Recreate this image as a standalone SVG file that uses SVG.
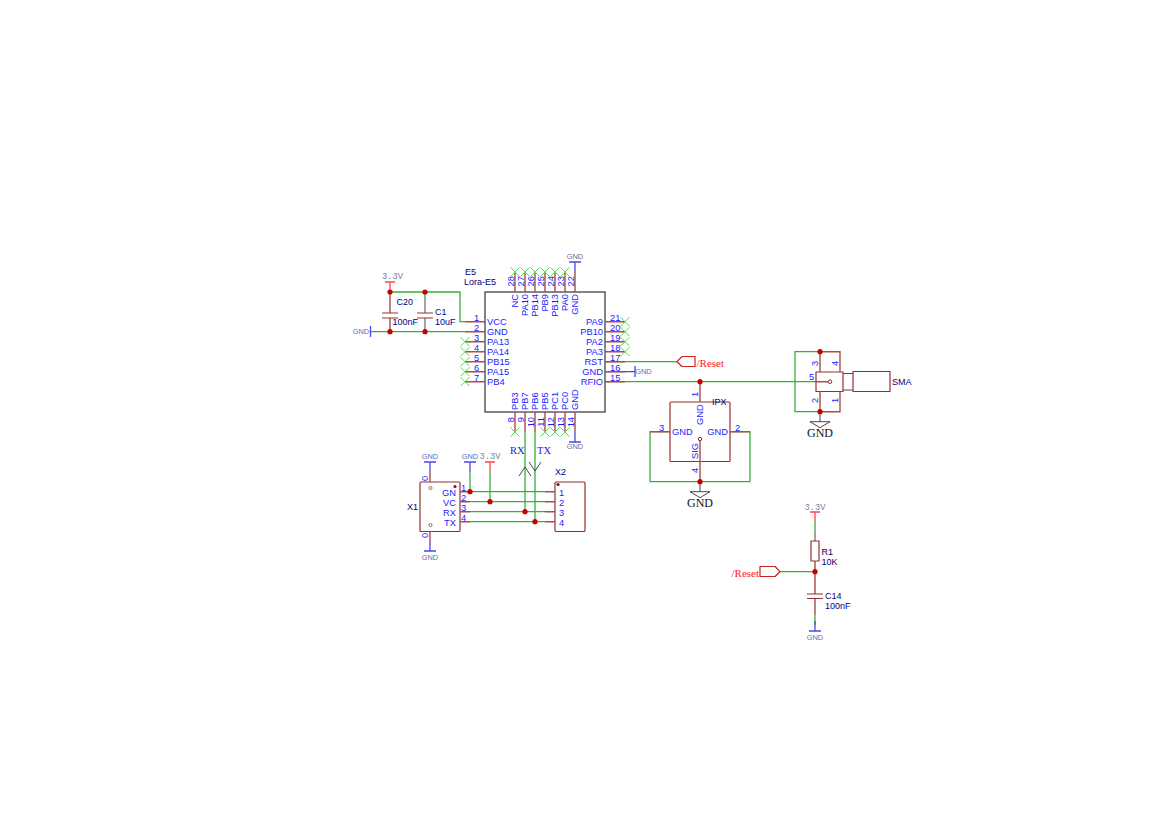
<svg xmlns="http://www.w3.org/2000/svg" width="1169" height="827" viewBox="0 0 1169 827">
<style>
text{font-family:"Liberation Sans",Arial,sans-serif;font-size:9.3px;fill:#1a1aff}
.nm{fill:#000080;font-size:9px}
.g{fill:#6a6ab4;font-size:7.4px;text-anchor:middle}
.v{fill:#8080a8;font-family:"Liberation Mono",monospace;font-size:8.8px;text-anchor:middle}
.s{font-family:"Liberation Serif",serif;font-size:10.500px}
.r{fill:#ff2020}
.b{fill:#1a1ad0}
.e{text-anchor:end}
.c{fill:#101010;text-anchor:middle}
.w,.p,.o,.x,.gb,.rb,.k{fill:none}
.w{stroke:#3aae3a;stroke-width:1.300}
.p{stroke:#ac4c4c;stroke-width:1.400}
.o{stroke:#963030;stroke-width:1.200;stroke-linejoin:round}
.x{stroke:#50e050;stroke-width:1}
.gb{stroke:#4848ec;stroke-width:1.300}
.rb{stroke:#ff4848;stroke-width:1.300}
.k{stroke:#333;stroke-width:.9}
.j{fill:#c80000}
.u{fill:none;stroke:#444;stroke-width:1.300}
</style>
<defs>
<g id="nc"><path class="x" d="M-4.500,-4.500L4.500,4.500M-4.500,4.500L4.500,-4.500"/></g>
<g id="dot"><circle class="j" r="2.600"/></g>
<g id="gndH"><path class="gb" d="M0,0V-10M-6,-10H6"/></g>
<g id="vcc"><path class="rb" d="M0,0V-10M-5,-10H5"/></g>
<g id="tri"><path class="k" d="M0,0V10M-10,10H10L0,16Z"/></g>
</defs>

<g id="connectors">
<path class="w" d="M390,292H460V321.700H465M370.500,331.700H465"/>
<path class="w" d="M605,361.700H677M605,381.700H815"/>
<path class="w" d="M525,432V511.700M535,432V521.700"/>
<path class="w" d="M470,472V491.700M490,472V501.700"/>
<path class="w" d="M470,491.700H545M470,501.700H545M470,511.700H545M470,521.700H545"/>
<path class="w" d="M670,431.700H650V481.700H750V431.700H730"/>
<path class="w" d="M820,351.700H795V411.700H820"/>
<path class="w" d="M780,571.700H815M815,522V531M815,615V625"/>
<path class="gb" d="M605,371.700H635M635,366V377"/>
<path class="gb" d="M370.500,326V337"/>
</g>

<g id="U1">
<rect class="u" x="485" y="292" width="120" height="120"/>
<path class="p" d="M465,321.700H485M465,331.700H485M465,341.700H485M465,351.700H485M465,361.700H485M465,371.700H485M465,381.700H485"/>
<path class="p" d="M605,321.700H625M605,331.700H625M605,341.700H625M605,351.700H625M605,361.700H625M605,371.700H625M605,381.700H625"/>
<path class="p" d="M515,272V292M525,272V292M535,272V292M545,272V292M555,272V292M565,272V292M575,272V292"/>
<path class="p" d="M515,412V432M525,412V432M535,412V432M545,412V432M555,412V432M565,412V432M575,412V432"/>
<use href="#nc" x="465" y="341.700"/><use href="#nc" x="465" y="351.700"/><use href="#nc" x="465" y="361.700"/><use href="#nc" x="465" y="371.700"/><use href="#nc" x="465" y="381.700"/>
<use href="#nc" x="625" y="321.700"/><use href="#nc" x="625" y="331.700"/><use href="#nc" x="625" y="341.700"/><use href="#nc" x="625" y="351.700"/>
<use href="#nc" x="515" y="272"/><use href="#nc" x="525" y="272"/><use href="#nc" x="535" y="272"/><use href="#nc" x="545" y="272"/><use href="#nc" x="555" y="272"/><use href="#nc" x="565" y="272"/>
<use href="#nc" x="515" y="432"/><use href="#nc" x="545" y="432"/><use href="#nc" x="555" y="432"/><use href="#nc" x="565" y="432"/>
<use href="#gndH" x="575" y="272"/>
<use href="#gndH" x="575" y="432" transform="rotate(180 575 432) translate(0,-0)"/>
<text class="nm" x="465" y="275">E5</text>
<text class="nm" x="464" y="285">Lora-E5</text>
<text x="487" y="325">VCC</text><text x="487" y="335">GND</text><text x="487" y="345">PA13</text><text x="487" y="355">PA14</text><text x="487" y="365">PB15</text><text x="487" y="375">PA15</text><text x="487" y="385">PB4</text>
<text x="474" y="321">1</text><text x="474" y="331">2</text><text x="474" y="341">3</text><text x="474" y="351">4</text><text x="474" y="361">5</text><text x="474" y="371">6</text><text x="474" y="381">7</text>
<text class="e" x="603" y="325">PA9</text><text class="e" x="603" y="335">PB10</text><text class="e" x="603" y="345">PA2</text><text class="e" x="603" y="355">PA3</text><text class="e" x="603" y="365">RST</text><text class="e" x="603" y="375">GND</text><text class="e" x="603" y="385">RFIO</text>
<text x="610" y="321">21</text><text x="610" y="331">20</text><text x="610" y="341">19</text><text x="610" y="351">18</text><text x="610" y="361">17</text><text x="610" y="371">16</text><text x="610" y="381">15</text>
<text class="e" transform="translate(518,294) rotate(-90)">NC</text>
<text class="e" transform="translate(528,294) rotate(-90)">PA10</text>
<text class="e" transform="translate(538,294) rotate(-90)">PB14</text>
<text class="e" transform="translate(548,294) rotate(-90)">PB9</text>
<text class="e" transform="translate(558,294) rotate(-90)">PB13</text>
<text class="e" transform="translate(568,294) rotate(-90)">PA0</text>
<text class="e" transform="translate(578,294) rotate(-90)">GND</text>
<text transform="translate(514,286.500) rotate(-90)">28</text>
<text transform="translate(524,286.500) rotate(-90)">27</text>
<text transform="translate(534,286.500) rotate(-90)">26</text>
<text transform="translate(544,286.500) rotate(-90)">25</text>
<text transform="translate(554,286.500) rotate(-90)">24</text>
<text transform="translate(564,286.500) rotate(-90)">23</text>
<text transform="translate(574,286.500) rotate(-90)">22</text>
<text transform="translate(518,410) rotate(-90)">PB3</text>
<text transform="translate(528,410) rotate(-90)">PB7</text>
<text transform="translate(538,410) rotate(-90)">PB6</text>
<text transform="translate(548,410) rotate(-90)">PB5</text>
<text transform="translate(558,410) rotate(-90)">PC1</text>
<text transform="translate(568,410) rotate(-90)">PC0</text>
<text transform="translate(578,410) rotate(-90)">GND</text>
<text class="e" transform="translate(514,417) rotate(-90)">8</text>
<text class="e" transform="translate(524,417) rotate(-90)">9</text>
<text class="e" transform="translate(534,417) rotate(-90)">10</text>
<text class="e" transform="translate(544,417) rotate(-90)">11</text>
<text class="e" transform="translate(554,417) rotate(-90)">12</text>
<text class="e" transform="translate(564,417) rotate(-90)">13</text>
<text class="e" transform="translate(574,417) rotate(-90)">14</text>
</g>

<g id="C20">
<path class="p" d="M390,292V313M390,318V331.700"/>
<path class="o" d="M382,313H398M382,318H398"/>
<text class="nm" x="396.500" y="305">C20</text>
<text class="nm" x="392.500" y="325">100nF</text>
</g>
<g id="C1">
<path class="k" d="M425,292V313M425,318V331.700"/>
<path class="o" d="M417,313H433M417,318H433"/>
<text class="nm" x="435" y="315">C1</text>
<text class="nm" x="435" y="324.500">10uF</text>
</g>

<g id="power-labels">
<use href="#vcc" x="390" y="292"/>
<text class="v" x="392.500" y="279">3.3V</text>
<text class="g" x="361" y="334">GND</text>
<text class="g" x="575" y="259">GND</text>
<text class="g" x="575" y="449">GND</text>
<text class="g" x="643.500" y="374">GND</text>
<text class="g" x="430" y="458.500">GND</text>
<text class="g" x="430" y="559.500">GND</text>
<text class="g" x="470" y="458.500">GND</text>
<text class="v" x="490" y="458.500">3.3V</text>
<use href="#gndH" x="470" y="472"/>
<use href="#vcc" x="490" y="472"/>
<text class="v" x="815" y="509.500">3.3V</text>
<text class="g" x="815" y="639.500">GND</text>
<use href="#vcc" x="815" y="522"/>
<use href="#gndH" x="815" y="621" transform="rotate(180 815 621)"/>
</g>

<g id="Reset1">
<path class="o" d="M677,361.700L682,356.500H695V366.500H682Z" style="stroke:#cc2020"/>
<text class="s r" style="font-size:11px" x="696.500" y="367">/Reset</text>
</g>

<g id="nets">
<text class="s b" x="510" y="454">RX</text>
<text class="s b" x="537" y="454">TX</text>
<path class="k" d="M519,476L525,467L531,476M529,462L535,471L541,462"/>
</g>

<g id="X1">
<rect class="o" x="420" y="482" width="40" height="49.500" rx="1"/>
<path class="p" d="M460,491.700H470M460,501.700H470M460,511.700H470M460,521.700H470M430,472V482M430,531.500V541"/>
<use href="#gndH" x="430" y="472"/>
<use href="#gndH" x="430" y="541" transform="rotate(180 430 541)"/>
<circle cx="455" cy="486.500" r="1.600" fill="#8c1010"/>
<circle cx="430.500" cy="488" r="1.500" fill="none" stroke="#6c6c50" stroke-width=".9"/>
<circle cx="430.500" cy="525" r="1.500" fill="none" stroke="#6c6c50" stroke-width=".9"/>
<text class="nm" x="407" y="510">X1</text>
<text class="e" x="456" y="495.500">GN</text><text class="e" x="456" y="505.500">VC</text><text class="e" x="456" y="515.500">RX</text><text class="e" x="456" y="525.500">TX</text>
<text x="461" y="490.500">1</text><text x="461" y="500.500">2</text><text x="461" y="510.500">3</text><text x="461" y="520.500">4</text>
<text transform="translate(428,481) rotate(-90)">0</text>
<text transform="translate(428,538) rotate(-90)">0</text>
</g>

<g id="X2">
<rect class="o" x="555" y="482" width="30" height="49.500" rx="1"/>
<path class="p" d="M545,491.700H555M545,501.700H555M545,511.700H555M545,521.700H555"/>
<circle cx="558" cy="484.500" r="1.600" fill="#8c1010"/>
<text class="nm" x="555" y="475">X2</text>
<text x="559" y="496">1</text><text x="559" y="506">2</text><text x="559" y="516">3</text><text x="559" y="526">4</text>
</g>

<g id="IPX">
<rect class="o" x="670" y="402" width="60" height="59.500" rx="1"/>
<path class="p" d="M700,382V402M700,441V481.700M650,431.700H670M730,431.700H750"/>
<circle cx="700" cy="439" r="1.700" fill="#fff" stroke="#8c2626"/>
<use href="#tri" x="700" y="481.700"/>
<text class="c s" x="700" y="506.500" style="font-size:12px">GND</text>
<text class="nm" x="712" y="405">IPX</text>
<text x="672" y="435">GND</text>
<text class="e" x="728" y="435">GND</text>
<text transform="translate(703,425) rotate(-90)">GND</text>
<text transform="translate(698,459) rotate(-90)">SIG</text>
<text transform="translate(698,397) rotate(-90)">1</text>
<text transform="translate(698,473) rotate(-90)">4</text>
<text x="659" y="431">3</text>
<text x="735" y="431">2</text>
</g>

<g id="SMA">
<rect class="o" x="816" y="372" width="27" height="19.500"/>
<rect class="o" x="853" y="371.500" width="37" height="20"/>
<path class="o" d="M843,373.500H853M843,390H853"/>
<path class="p" d="M815,381.700H828M820,352V372M820,391.500V411.700M840,372V351.700H820M840,391.500V411.700H820"/>
<circle cx="830" cy="381.700" r="1.800" fill="#fff" stroke="#8c2626"/>
<use href="#tri" x="820" y="411.700"/>
<text class="c s" x="820" y="437" style="font-size:12px">GND</text>
<text class="nm" x="892" y="385">SMA</text>
<text x="809" y="380">5</text>
<text transform="translate(818,366) rotate(-90)">3</text>
<text transform="translate(838,366) rotate(-90)">4</text>
<text transform="translate(818,403) rotate(-90)">2</text>
<text transform="translate(838,403) rotate(-90)">1</text>
</g>

<g id="R1">
<rect class="o" x="811" y="541" width="8" height="20"/>
<path class="k" d="M815,531V541"/>
<path class="p" d="M815,561V571.700"/>
<text class="nm" x="821.500" y="554.500">R1</text>
<text class="nm" x="821.500" y="564.500">10K</text>
</g>
<g id="C14">
<path class="p" d="M815,571.700V594M815,598.500V615"/>
<path class="o" d="M807,594H823M807,598.500H823"/>
<text class="nm" x="825" y="599.300">C14</text>
<text class="nm" x="825" y="609">100nF</text>
</g>
<g id="Reset2">
<path class="o" d="M760,566.500H775L780,571.700L775,576.500H760Z" style="stroke:#cc2020"/>
<text class="s r e" style="font-size:11px" x="759" y="577">/Reset</text>
</g>

<g id="junctions">
<use href="#dot" x="390" y="292"/><use href="#dot" x="425" y="292"/>
<use href="#dot" x="390" y="331.700"/><use href="#dot" x="425" y="331.700"/>
<use href="#dot" x="700" y="381.700"/><use href="#dot" x="700" y="481.700"/>
<use href="#dot" x="820" y="351.700"/><use href="#dot" x="820" y="411.700"/>
<use href="#dot" x="815" y="571.700"/>
<use href="#dot" x="470" y="491.700"/><use href="#dot" x="490" y="501.700"/>
<use href="#dot" x="525" y="511.700"/><use href="#dot" x="535" y="521.700"/>
</g>
</svg>
